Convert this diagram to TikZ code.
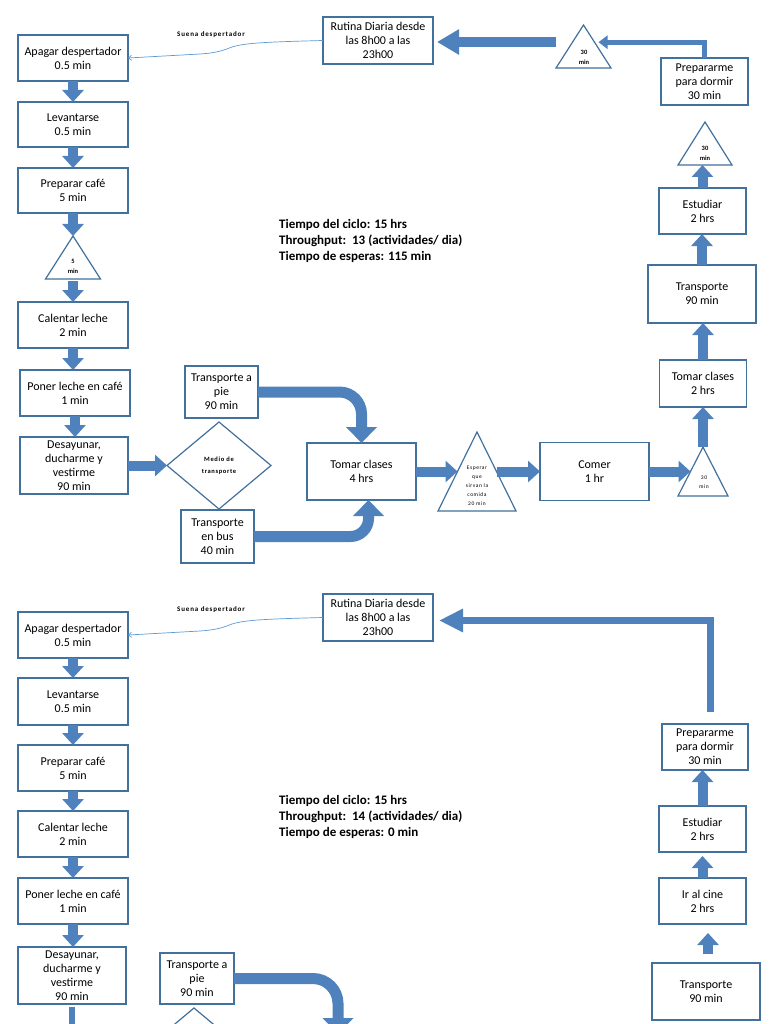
\documentclass[tikz,border=0pt]{standalone}
\usepackage{fontspec}
\setmainfont{Carlito}
\usetikzlibrary{arrows.meta,shapes.geometric,calc}
\definecolor{boxc}{HTML}{41719C}
\definecolor{arrc}{HTML}{4F81BD}
\definecolor{thinc}{HTML}{5B9BD5}
\begin{document}
\begin{tikzpicture}[x=1pt,y=-1pt,
 wh/.style 2 args={minimum width=#1pt, minimum height=#2pt},
 box/.style={draw=boxc, line width=1.2pt, fill=white, align=center, inner sep=0pt, outer sep=0pt, font=\fontsize{12}{14}\selectfont},
 tribox/.style={inner sep=0pt, outer sep=0pt, draw=none},
 trishape/.style={draw=boxc, line width=1.2pt, fill=white, line join=miter},
 tritext/.style={align=center, inner sep=0pt, font=\fontsize{6.5}{10}\selectfont\bfseries},
 tinytext/.style={align=center, inner sep=0pt, font=\fontsize{5.5}{9}\selectfont\addfontfeatures{LetterSpace=10}},
 dia/.style={diamond, draw=boxc, line width=1.2pt, fill=white, inner sep=0pt, outer sep=0pt, align=center, font=\fontsize{6.5}{12}\selectfont\bfseries\addfontfeatures{LetterSpace=10}},
 barrow/.style={draw=arrc, line width=10pt, -{Triangle[width=21pt,length=12pt]}},
 bigarrow/.style={draw=arrc, line width=10pt, -{Triangle[width=24pt,length=22pt]}},
 curvearrow/.style={draw=arrc, line width=11pt, -{Triangle[width=30pt,length=16pt]}},
 thinarrow/.style={draw=arrc, line width=5pt, -{Triangle[width=13pt,length=9pt]}},
 thinline/.style={draw=thinc, line width=0.7pt, -{Straight Barb[length=3pt,width=5pt]}},
 lbl/.style={inner sep=0pt, font=\fontsize{7}{8}\selectfont\bfseries\addfontfeatures{LetterSpace=12}},
 stats/.style={align=left, inner sep=0pt, anchor=west, font=\fontsize{13}{16}\selectfont\bfseries}
]
\clip (0,0) rectangle (768,1024);
\fill[white] (0,0) rectangle (768,1024);

% ================= TOP HALF =================
\node[box, wh={110}{47}] (rut1) at (378,40.5) {Rutina Diaria desde\\las 8h00 a las\\23h00};
\node[lbl] (sd1) at (211,35) {Suena despertador};
\node[box, wh={110}{46}] (ap1) at (73,58) {Apagar despertador\\0.5 min};
\node[box, wh={110}{45}] (lev1) at (73,124.5) {Levantarse\\0.5 min};
\node[box, wh={110}{45}] (caf1) at (73,190.5) {Preparar café\\5 min};
\node[tribox, wh={55}{43}] (t5) at (73,257.5) {};
\draw[trishape] (t5.south west) -- (t5.north) -- (t5.south east) -- cycle;
\node[tritext] (t5t) at (73,266) {5\\min};
\node[box, wh={110}{46}] (cal1) at (73,325) {Calentar leche\\2 min};
\node[box, wh={110}{46}] (pon1) at (75,393) {Poner leche en café\\1 min};
\node[box, wh={108}{57}] (des1) at (74,465.5) {Desayunar,\\ducharme y\\vestirme\\90 min};
\node[dia, wh={104}{87}] (med1) at (219,465.5) {Medio de\\transporte};
\node[box, wh={73}{52}] (pie1) at (221.5,392) {Transporte a\\pie\\90 min};
\node[box, wh={73}{53}] (bus1) at (217.5,536.5) {Transporte\\en bus\\40 min};
\node[box, wh={109}{57}] (tom1) at (361.5,471.5) {Tomar clases\\4 hrs};
\node[tribox, wh={78}{79}] (esp) at (477,471.5) {};
\draw[trishape] (esp.south west) -- (esp.north) -- (esp.south east) -- cycle;
\node[tinytext] (espt) at (477,486) {Esperar\\que\\sirvan la\\comida\\20 min};
\node[box, wh={109}{58}] (com) at (594.5,471.5) {Comer\\1 hr};
\node[tribox, wh={50}{49}] (t30a) at (703,471.5) {};
\draw[trishape] (t30a.south west) -- (t30a.north) -- (t30a.south east) -- cycle;
\node[tinytext] (t30at) at (704,482) {30\\min};
\node[box, wh={87}{47}] (tc2) at (703,383.5) {Tomar clases\\2 hrs};
\node[box, wh={108}{58}] (tr90) at (702,294) {Transporte\\90 min};
\node[box, wh={87}{46}] (est) at (702.5,211) {Estudiar\\2 hrs};
\node[tribox, wh={54}{43}] (t30b) at (705,143.5) {};
\draw[trishape] (t30b.south west) -- (t30b.north) -- (t30b.south east) -- cycle;
\node[tritext] (t30bt) at (705,153) {30\\min};
\node[box, wh={87}{47}] (prep) at (704.5,81.5) {Prepararme\\para dormir\\30 min};
\node[tribox, wh={55}{43}] (t30c) at (583.5,46.5) {};
\draw[trishape] (t30c.south west) -- (t30c.north) -- (t30c.south east) -- cycle;
\node[tritext] (t30ct) at (584,57) {30\\min};
\node[stats] (st1) at (279,241) {Tiempo del ciclo: 15 hrs\\Throughput:\ \ 13 (actividades/ dia)\\Tiempo de esperas: 115 min};

% connectors top
\draw[thinline] (rut1.west) .. controls (265,42) and (245,43) .. (232,47) .. controls (222,51) and (215,53) .. (200,54) -- (ap1.east);
\draw[barrow] (ap1.south) -- (lev1.north);
\draw[barrow] (lev1.south) -- (caf1.north);
\draw[barrow] (caf1.south) -- (t5.north);
\draw[barrow] ([yshift=-2pt]t5.south) -- (cal1.north);
\draw[barrow] (cal1.south) -- (cal1.south |- pon1.north);
\draw[barrow] (pon1.south) -- (pon1.south |- des1.north);
\draw[barrow] (des1.east) -- (med1.west);
\draw[curvearrow, rounded corners=22pt] (pie1.east) -| (tom1.north);
\draw[curvearrow, rounded corners=18pt] (bus1.east) -| ($(tom1.south)+(7,0)$);
\draw[barrow] (tom1.east) -- ($(esp.north)!0.5!(esp.south west)$);
\draw[barrow] ($(esp.north)!0.5!(esp.south east)$) -- (com.west);
\draw[barrow] (com.east) -- ($(t30a.north)!0.5!(t30a.south west)$);
\draw[barrow] (t30a.north) -- (t30a.north |- tc2.south);
\draw[barrow] (tc2.north) -- (tc2.north |- tr90.south);
\draw[barrow] (tr90.north) -- (tr90.north |- est.south);
\draw[barrow] (est.north) -- (est.north |- t30b.south);
\coordinate (pin) at ($(t30c.north)!0.4!(t30c.south east)$);
\draw[thinarrow] (prep.north) |- ([xshift=4pt]pin);
\coordinate (bgs) at ($(t30c.south west)+(0,-26)$);
\draw[bigarrow, shorten >=4pt] (bgs) -- (rut1.east |- bgs);

% ================= BOTTOM HALF =================
\node[box, wh={110}{47}] (rut2) at (378,617.5) {Rutina Diaria desde\\las 8h00 a las\\23h00};
\node[lbl] (sd2) at (211,610) {Suena despertador};
\node[box, wh={110}{46}] (ap2) at (73,635) {Apagar despertador\\0.5 min};
\node[box, wh={110}{47}] (lev2) at (73,701.5) {Levantarse\\0.5 min};
\node[box, wh={110}{46}] (caf2) at (73,768) {Preparar café\\5 min};
\node[box, wh={110}{46}] (cal2) at (73,834) {Calentar leche\\2 min};
\node[box, wh={110}{46}] (pon2) at (73,901) {Poner leche en café\\1 min};
\node[box, wh={108}{57}] (des2) at (72,975.5) {Desayunar,\\ducharme y\\vestirme\\90 min};
\node[box, wh={74}{51}] (pie2) at (197,978.5) {Transporte a\\pie\\90 min};
\node[dia, wh={104}{87}] (med2) at (194,1051.5) {};
\coordinate (tom2n) at (338,1034);
\node[stats] (st2) at (279,817) {Tiempo del ciclo: 15 hrs\\Throughput:\ \ 14 (actividades/ dia)\\Tiempo de esperas: 0 min};
\node[box, wh={86}{46}] (prep2) at (705,747) {Prepararme\\para dormir\\30 min};
\node[box, wh={87}{46}] (est2) at (702.5,829) {Estudiar\\2 hrs};
\node[box, wh={87}{46}] (cine) at (702.5,901) {Ir al cine\\2 hrs};
\node[box, wh={108}{57}] (tr2) at (706,991.5) {Transporte\\90 min};

% connectors bottom
\draw[thinline] (rut2.west) .. controls (265,619) and (245,620) .. (232,624) .. controls (222,628) and (215,630) .. (200,631) -- (ap2.east);
\draw[barrow] (ap2.south) -- (lev2.north);
\draw[barrow] (lev2.south) -- (caf2.north);
\draw[barrow] (caf2.south) -- (cal2.north);
\draw[barrow] (cal2.south) -- (pon2.north);
\draw[barrow] (pon2.south) -- (pon2.south |- des2.north);
\draw[arrc, line width=6pt] ([yshift=-3pt]des2.south) -- ++(0,40);
\draw[curvearrow, rounded corners=25pt] (pie2.east) -| (tom2n);
\draw[barrow, shorten <=9pt, shorten >=9pt] ([xshift=2pt]tr2.north) -- ([xshift=2pt]tr2.north |- cine.south);
\draw[barrow, shorten >=4pt] (cine.north) -- (est2.south);
\draw[barrow] (est2.north) -- (est2.north |- prep2.south);
\draw[arrc, line width=7pt, -{Triangle[width=22pt,length=24pt]}, shorten <=12pt, shorten >=6pt] ([xshift=5pt]prep2.north) |- ([yshift=-3pt]rut2.east);
\end{tikzpicture}
\end{document}
